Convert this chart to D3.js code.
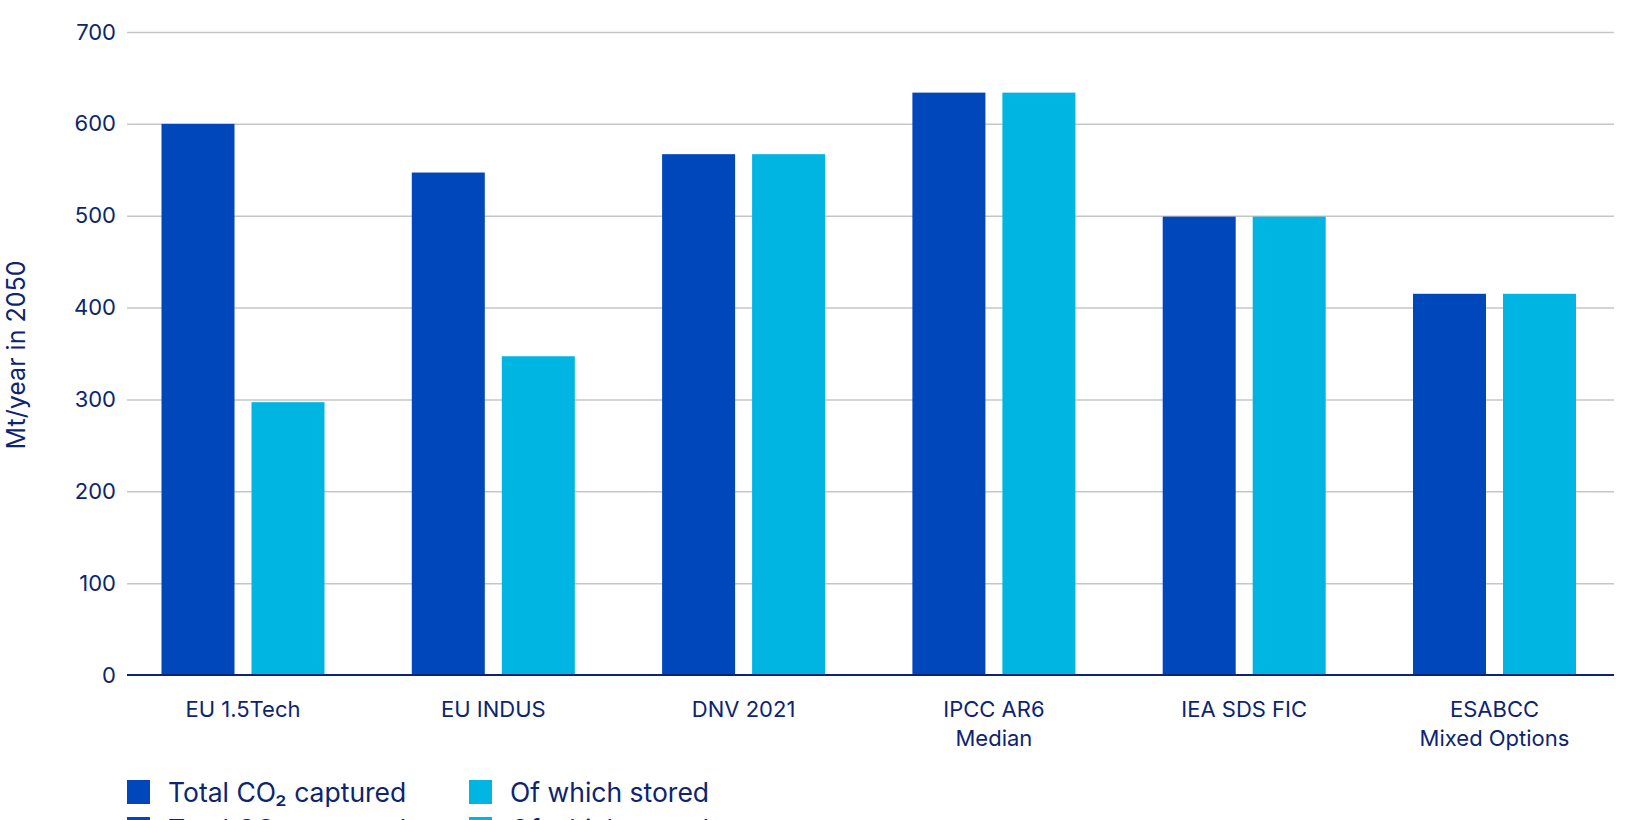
<!DOCTYPE html>
<html>
<head>
<meta charset="utf-8">
<script src="https://cdn.jsdelivr.net/npm/d3@7"></script>
<style>
  html, body { margin: 0; padding: 0; background: #ffffff; }
  svg { display: block; font-family: Inter, "Noto Sans", sans-serif; }
</style>
</head>
<body>
<svg id="chart" width="1640" height="820"></svg>
<script>
const categories = ["EU 1.5Tech", "EU INDUS", "DNV 2021", "IPCC AR6\nMedian", "IEA SDS FIC", "ESABCC\nMixed Options"];
const seriesNames = ["Total CO\u2082 captured", "Of which stored"];
const totalCaptured = [600, 547, 567, 634, 499, 415];
const ofWhichStored = [297, 347, 567, 634, 499, 415];
const yTicks = [0, 100, 200, 300, 400, 500, 600, 700];
const yLabel = "Mt/year in 2050";
const colors = ["#0047bb", "#00b5e2"];
const textColor = "#0d2470";

const svg = d3.select("#chart");
const plotLeft = 127, plotRight = 1614, plotTop = 32, plotBottom = 675;

const x0 = d3.scaleBand().domain(categories).range([117.85, 1619.65]).padding(0);
const groupWidth = 163;
const x1 = d3.scaleBand().domain(seriesNames).range([0, groupWidth]).paddingInner(0.1889).paddingOuter(0);
const y = d3.scaleLinear().domain([0, 700]).range([plotBottom, plotTop]);
const color = d3.scaleOrdinal().domain(seriesNames).range(colors);

// Gridlines + y tick labels
const yAxis = d3.axisLeft(y).tickValues(yTicks).tickSize(-(plotRight - plotLeft)).tickPadding(11);
const gy = svg.append("g").attr("transform", `translate(${plotLeft},0)`).call(yAxis);
gy.select(".domain").remove();
gy.selectAll(".tick line").attr("stroke", "#c6c6c6").attr("stroke-width", 1.5)
  .filter(d => d === 0).remove();
gy.selectAll(".tick text").attr("fill", textColor).attr("font-size", 22)
  .attr("font-family", "Inter, 'Noto Sans', sans-serif");

// Bars
const data = categories.map((c, i) => ({ cat: c, values: [totalCaptured[i], ofWhichStored[i]] }));
const groupOffset = (x0.bandwidth() - groupWidth) / 2;
const groups = svg.append("g").selectAll("g").data(data).join("g")
  .attr("transform", d => `translate(${x0(d.cat) + groupOffset},0)`);
groups.selectAll("rect").data(d => d.values.map((v, j) => ({ key: seriesNames[j], v })))
  .join("rect")
  .attr("x", d => x1(d.key))
  .attr("width", x1.bandwidth())
  .attr("y", d => y(d.v))
  .attr("height", d => y(0) - y(d.v))
  .attr("fill", d => color(d.key));

// Baseline
svg.append("line").attr("x1", plotLeft).attr("x2", plotRight)
  .attr("y1", y(0)).attr("y2", y(0)).attr("stroke", textColor).attr("stroke-width", 2);

// X axis labels
const xAxis = d3.axisBottom(x0).tickSize(0).tickPadding(0);
const gx = svg.append("g").attr("transform", `translate(0,${plotBottom})`).call(xAxis);
gx.select(".domain").remove();
gx.selectAll(".tick text").each(function(d) {
  const t = d3.select(this);
  t.text(null).attr("fill", textColor).attr("font-size", 22)
    .attr("font-family", "Inter, 'Noto Sans', sans-serif").attr("dy", null).attr("y", 0);
  d.split("\n").forEach((line, k) => {
    t.append("tspan").attr("x", 0).attr("y", 42 + k * 29.3).text(line);
  });
});

// Y axis title
svg.append("text")
  .attr("transform", `translate(25,355) rotate(-90)`)
  .attr("text-anchor", "middle")
  .attr("fill", textColor).attr("font-size", 25)
  .text(yLabel);

// Legend (with a second, clipped duplicate row as in the reference)
const legendX = [127, 469];
[0, 37].forEach(off => {
  const lg = svg.append("g").attr("transform", `translate(0,${780 + off})`);
  seriesNames.forEach((s, i) => {
    lg.append("rect").attr("x", legendX[i]).attr("y", 0).attr("width", 23).attr("height", 24).attr("fill", color(s));
    lg.append("text").attr("x", legendX[i] + 41).attr("y", 22)
      .attr("fill", textColor).attr("font-size", 26.5).text(s);
  });
});
</script>
</body>
</html>
